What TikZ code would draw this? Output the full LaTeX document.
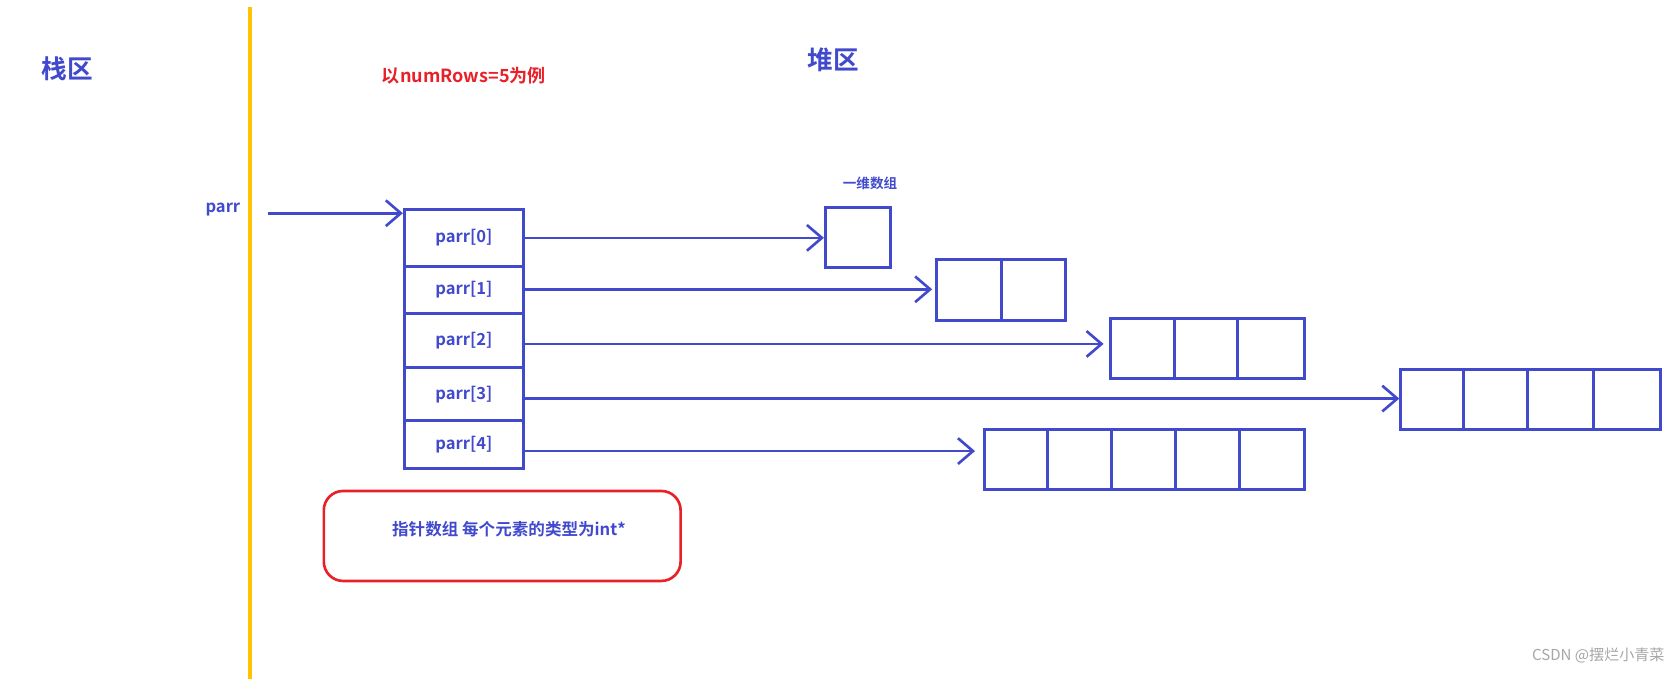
\documentclass[tikz,border=0pt]{standalone}
\usepackage{fontspec}
\setmainfont{Noto Sans CJK SC}[BoldFont={* Bold}]
\usetikzlibrary{arrows.meta}
\definecolor{bl}{RGB}{65,73,204}
\definecolor{rd}{RGB}{232,32,40}
\definecolor{yl}{RGB}{255,195,0}
\tikzset{
  box/.style={draw=bl,line width=4pt,inner sep=0pt,anchor=north west},
  ptr/.style={draw=bl,line width=3.5pt,-{Straight Barb[length=0.7cm,width=1.2cm,line width=3.5pt]}},
  lbl/.style={text=bl,font=\bfseries\fontsize{22}{24}\selectfont},
}
\begin{document}
\begin{tikzpicture}[x=0.05cm,y=-0.05cm]
\useasboundingbox (0,0) rectangle (1568,634);
\draw[yl,line width=5pt] (233,7) -- (233,634);
\node[text=bl,font=\bfseries\fontsize{34}{36}\selectfont] (stack) at (63,64) {栈区};
\node[text=bl,font=\bfseries\fontsize{34}{36}\selectfont] (heap) at (778,56) {堆区};
\node[text=rd,font=\bfseries\fontsize{24}{26}\selectfont] (ex) at (433,71) {以numRows=5为例};
\node[lbl] (parr) at (208,196) {parr};
\coordinate (ps) at (250,199);
% pointer array
\foreach \n/\t/\b in {0/194/247,1/247/291,2/291/342,3/342/391,4/391/436}{
  \node[box,minimum width={111*0.05cm},minimum height={(\b-\t)*0.05cm}] (p\n) at (376,\t) {};
  \node[lbl] at (p\n.center) {parr[\n]};
}
\draw[ptr] (ps) -- (p0.north west |- ps);
% arrays
\node[box,minimum width={61*0.05cm},minimum height={56*0.05cm}] (a0) at (769,192) {};
\node[box,minimum width={120*0.05cm},minimum height={57*0.05cm}] (a1) at (873,241) {};
\draw[bl,line width=4pt] (935,241) -- (935,298);
\node[box,minimum width={181*0.05cm},minimum height={56*0.05cm}] (a2) at (1035,296) {};
\foreach \x in {1096,1155} \draw[bl,line width=4pt] (\x,296) -- (\x,352);
\node[box,minimum width={242*0.05cm},minimum height={56*0.05cm}] (a3) at (1306,343) {};
\foreach \x in {1366,1426,1487} \draw[bl,line width=4pt] (\x,343) -- (\x,399);
\node[box,minimum width={299*0.05cm},minimum height={56*0.05cm}] (a4) at (917,399) {};
\foreach \x in {978,1037,1097,1157} \draw[bl,line width=4pt] (\x,399) -- (\x,455);
\node[text=bl,font=\bfseries\fontsize{18}{20}\selectfont] (one) at (812,171) {一维数组};
\draw[ptr] (487,222) -- (a0.west |- 0,222);
\draw[ptr] (487,270) -- ([xshift=-0.15cm]a1.west |- 0,270);
\draw[ptr] (487,321) -- ([xshift=-0.25cm]a2.west |- 0,321);
\draw[ptr] (487,372) -- (a3.west |- 0,372);
\draw[ptr] (487,421) -- ([xshift=-0.35cm]a4.west |- 0,421);
\node[draw=rd,line width=3.5pt,rounded corners=0.9cm,minimum width={333*0.05cm},minimum height={84*0.05cm},anchor=north west] (note) at (301,457) {};
\node[text=bl,font=\bfseries\fontsize{22}{24}\selectfont] at (475,494) {指针数组 每个元素的类型为int*};
\node[text=gray!70,font=\fontsize{20}{22}\selectfont,anchor=east] (wm) at (1556,612) {CSDN @摆烂小青菜};
\end{tikzpicture}
\end{document}
